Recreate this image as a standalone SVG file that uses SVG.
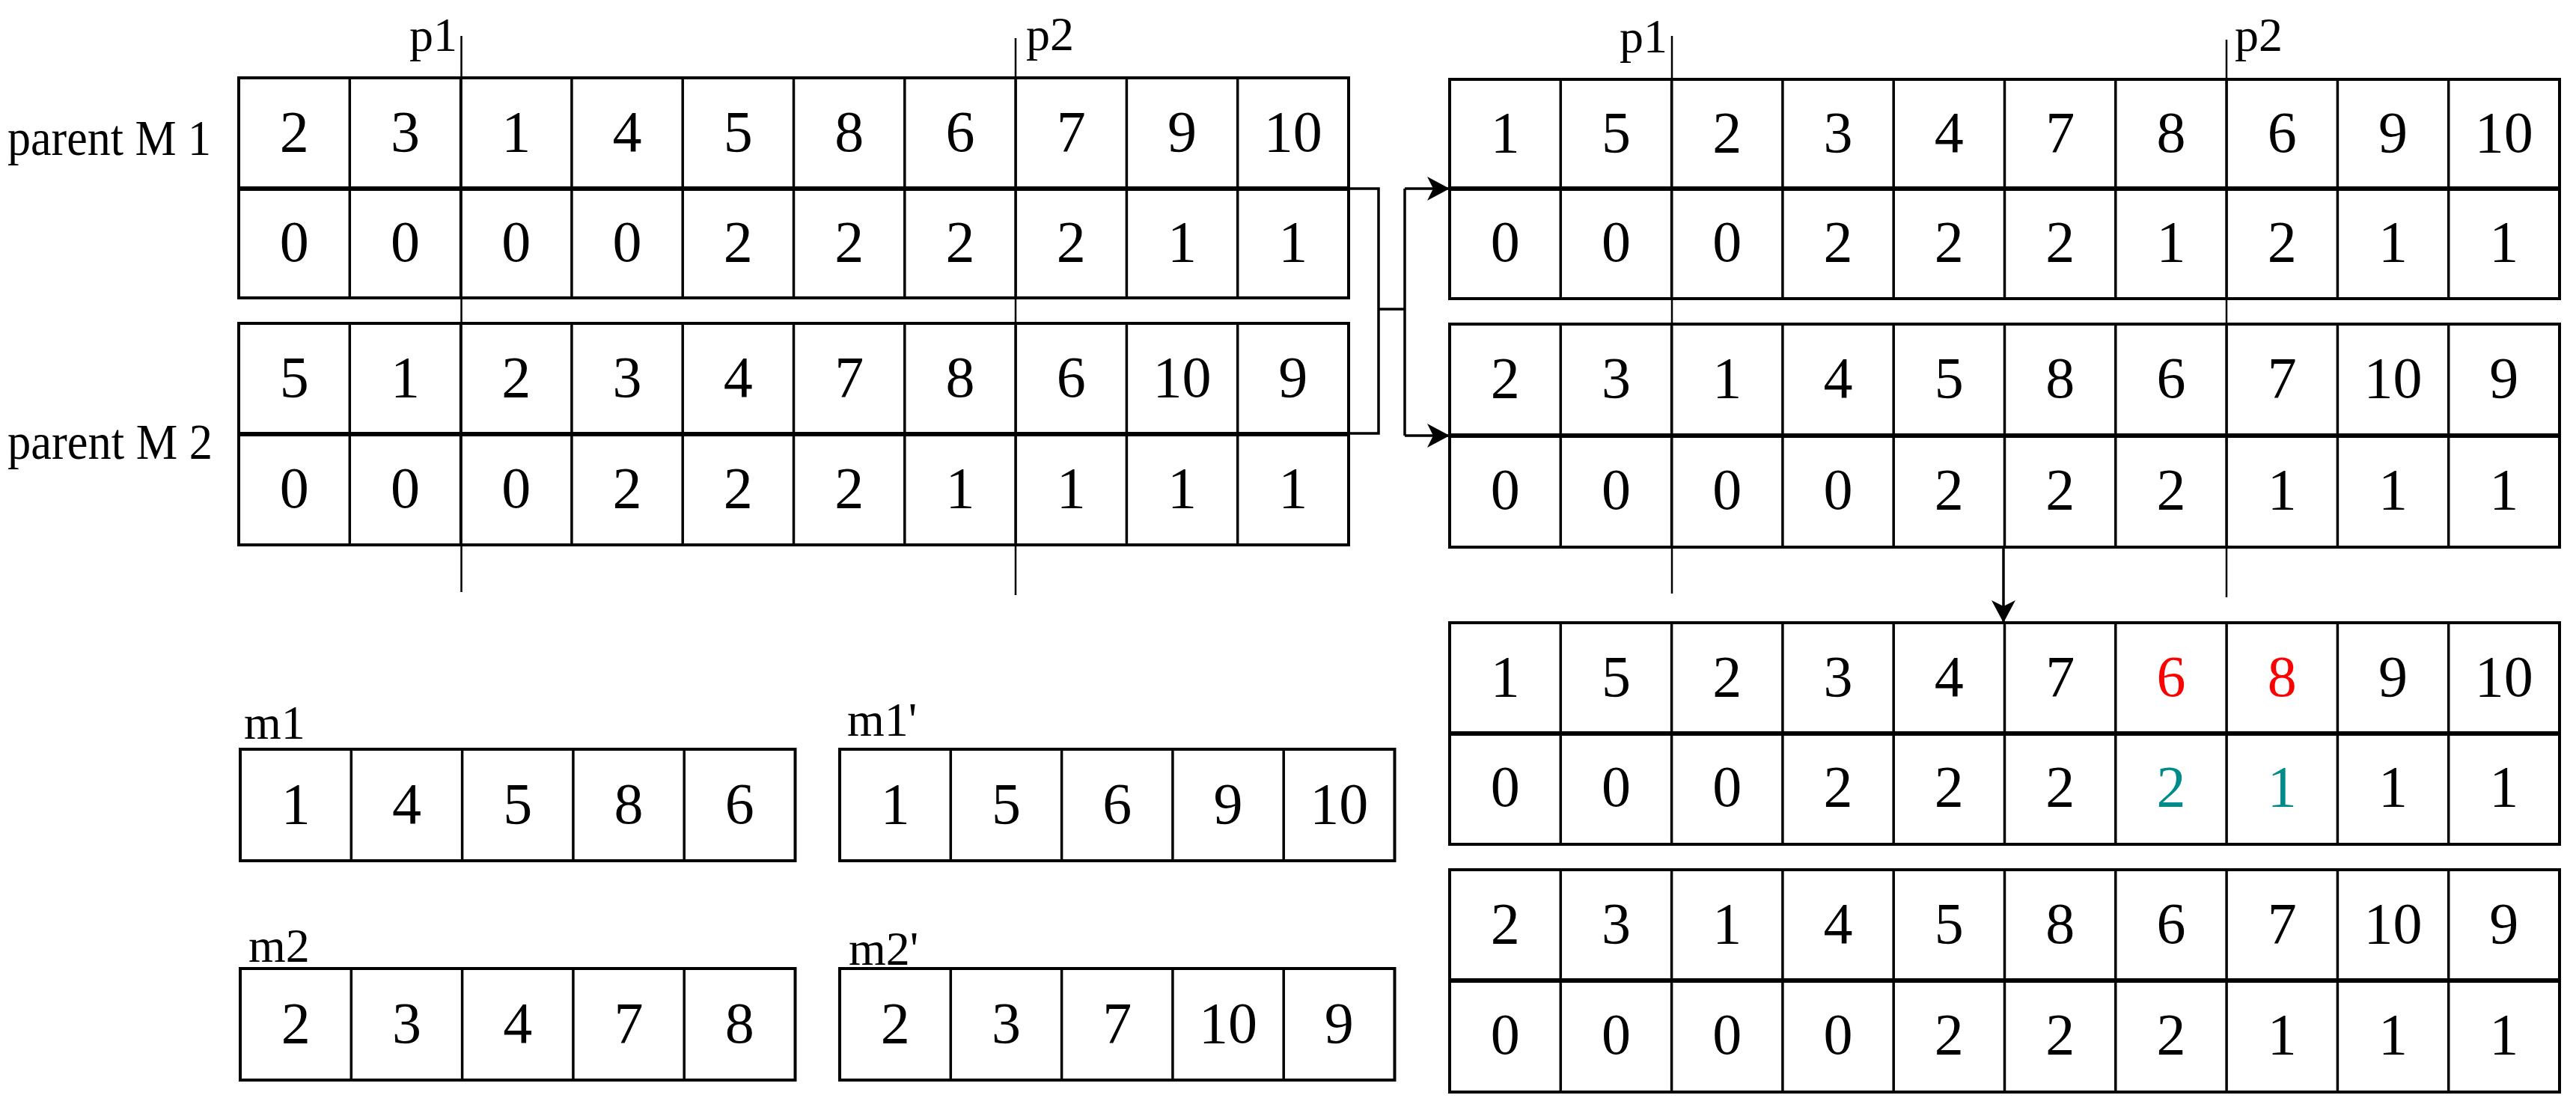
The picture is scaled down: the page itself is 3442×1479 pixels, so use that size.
<svg xmlns="http://www.w3.org/2000/svg" width="3442" height="1479" viewBox="0 0 3442 1479">
<style>
.bg{fill:#ffffff}
.box{fill:none;stroke:#000;stroke-width:4}
.mid{stroke:#000;stroke-width:6}
.v{stroke:#000;stroke-width:3.5}
.cut{stroke:#000;stroke-width:2.5;fill:none}
.con{stroke:#000;stroke-width:3.5;fill:none}
.d{font-family:"Liberation Serif","Times New Roman",serif;font-size:78px;text-anchor:middle;fill:#000}
.lab{font-family:"Liberation Serif","Times New Roman",serif;font-size:68px;fill:#000}
.pl{font-family:"Liberation Serif","Times New Roman",serif;font-size:64px;fill:#000}
.red{fill:#ff0000}
.teal{fill:#008b8b}
</style>
<defs>
<marker id="arr" markerUnits="userSpaceOnUse" viewBox="0 0 30 32" refX="30" refY="16" markerWidth="30" markerHeight="32" orient="auto">
<path d="M0,0 L30,16 L0,32 L8,16 Z" fill="#000"/>
</marker>
</defs>
<rect class="bg" x="0" y="0" width="3442" height="1479"/>

<!-- labels -->
<g id="labels">
<text class="lab" x="10" y="207" textLength="272" lengthAdjust="spacingAndGlyphs">parent M 1</text>
<text class="lab" x="10" y="613" textLength="274" lengthAdjust="spacingAndGlyphs">parent M 2</text>
<text class="pl" x="547" y="68">p1</text>
<text class="pl" x="1371" y="67">p2</text>
<text class="pl" x="2164" y="70">p1</text>
<text class="pl" x="2986" y="68">p2</text>
<text class="pl" x="326" y="987">m1</text>
<text class="pl" x="332" y="1285">m2</text>
<text class="pl" x="1132" y="983">m1'</text>
<text class="pl" x="1134" y="1289">m2'</text>
</g>

<!-- parent M1 -->
<g id="parentM1">
<rect class="box" x="319" y="104" width="1483" height="294"/>
<line class="mid" x1="319" y1="252" x2="1802" y2="252"/>
<path class="v" d="M467.3,104V398M615.6,104V398M763.9,104V398M912.2,104V398M1060.5,104V398M1208.8,104V398M1357.1,104V398M1505.4,104V398M1653.7,104V398"/>
<text class="d" x="393.15" y="202">2</text><text class="d" x="541.45" y="202">3</text><text class="d" x="689.75" y="202">1</text><text class="d" x="838.05" y="202">4</text><text class="d" x="986.35" y="202">5</text><text class="d" x="1134.65" y="202">8</text><text class="d" x="1282.95" y="202">6</text><text class="d" x="1431.25" y="202">7</text><text class="d" x="1579.55" y="202">9</text><text class="d" x="1727.85" y="202">10</text>
<text class="d" x="393.15" y="349">0</text><text class="d" x="541.45" y="349">0</text><text class="d" x="689.75" y="349">0</text><text class="d" x="838.05" y="349">0</text><text class="d" x="986.35" y="349">2</text><text class="d" x="1134.65" y="349">2</text><text class="d" x="1282.95" y="349">2</text><text class="d" x="1431.25" y="349">2</text><text class="d" x="1579.55" y="349">1</text><text class="d" x="1727.85" y="349">1</text>
</g>

<!-- parent M2 -->
<g id="parentM2">
<rect class="box" x="319" y="432" width="1483" height="296"/>
<line class="mid" x1="319" y1="580" x2="1802" y2="580"/>
<path class="v" d="M467.3,432V728M615.6,432V728M763.9,432V728M912.2,432V728M1060.5,432V728M1208.8,432V728M1357.1,432V728M1505.4,432V728M1653.7,432V728"/>
<text class="d" x="393.15" y="530">5</text><text class="d" x="541.45" y="530">1</text><text class="d" x="689.75" y="530">2</text><text class="d" x="838.05" y="530">3</text><text class="d" x="986.35" y="530">4</text><text class="d" x="1134.65" y="530">7</text><text class="d" x="1282.95" y="530">8</text><text class="d" x="1431.25" y="530">6</text><text class="d" x="1579.55" y="530">10</text><text class="d" x="1727.85" y="530">9</text>
<text class="d" x="393.15" y="678">0</text><text class="d" x="541.45" y="678">0</text><text class="d" x="689.75" y="678">0</text><text class="d" x="838.05" y="678">2</text><text class="d" x="986.35" y="678">2</text><text class="d" x="1134.65" y="678">2</text><text class="d" x="1282.95" y="678">1</text><text class="d" x="1431.25" y="678">1</text><text class="d" x="1579.55" y="678">1</text><text class="d" x="1727.85" y="678">1</text>
</g>

<!-- child R1 -->
<g id="child1">
<rect class="box" x="1937" y="106" width="1483" height="293"/>
<line class="mid" x1="1937" y1="252" x2="3420" y2="252"/>
<path class="v" d="M2085.3,106V399M2233.6,106V399M2381.9,106V399M2530.2,106V399M2678.5,106V399M2826.8,106V399M2975.1,106V399M3123.4,106V399M3271.7,106V399"/>
<text class="d" x="2011.15" y="203">1</text><text class="d" x="2159.45" y="203">5</text><text class="d" x="2307.75" y="203">2</text><text class="d" x="2456.05" y="203">3</text><text class="d" x="2604.35" y="203">4</text><text class="d" x="2752.65" y="203">7</text><text class="d" x="2900.95" y="203">8</text><text class="d" x="3049.25" y="203">6</text><text class="d" x="3197.55" y="203">9</text><text class="d" x="3345.85" y="203">10</text>
<text class="d" x="2011.15" y="349">0</text><text class="d" x="2159.45" y="349">0</text><text class="d" x="2307.75" y="349">0</text><text class="d" x="2456.05" y="349">2</text><text class="d" x="2604.35" y="349">2</text><text class="d" x="2752.65" y="349">2</text><text class="d" x="2900.95" y="349">1</text><text class="d" x="3049.25" y="349">2</text><text class="d" x="3197.55" y="349">1</text><text class="d" x="3345.85" y="349">1</text>
</g>

<!-- child R2 -->
<g id="child2">
<rect class="box" x="1937" y="433" width="1483" height="298"/>
<line class="mid" x1="1937" y1="582" x2="3420" y2="582"/>
<path class="v" d="M2085.3,433V731M2233.6,433V731M2381.9,433V731M2530.2,433V731M2678.5,433V731M2826.8,433V731M2975.1,433V731M3123.4,433V731M3271.7,433V731"/>
<text class="d" x="2011.15" y="531">2</text><text class="d" x="2159.45" y="531">3</text><text class="d" x="2307.75" y="531">1</text><text class="d" x="2456.05" y="531">4</text><text class="d" x="2604.35" y="531">5</text><text class="d" x="2752.65" y="531">8</text><text class="d" x="2900.95" y="531">6</text><text class="d" x="3049.25" y="531">7</text><text class="d" x="3197.55" y="531">10</text><text class="d" x="3345.85" y="531">9</text>
<text class="d" x="2011.15" y="680">0</text><text class="d" x="2159.45" y="680">0</text><text class="d" x="2307.75" y="680">0</text><text class="d" x="2456.05" y="680">0</text><text class="d" x="2604.35" y="680">2</text><text class="d" x="2752.65" y="680">2</text><text class="d" x="2900.95" y="680">2</text><text class="d" x="3049.25" y="680">1</text><text class="d" x="3197.55" y="680">1</text><text class="d" x="3345.85" y="680">1</text>
</g>

<!-- result R3 -->
<g id="result1">
<rect class="box" x="1937" y="832" width="1483" height="296"/>
<line class="mid" x1="1937" y1="980" x2="3420" y2="980"/>
<path class="v" d="M2085.3,832V1128M2233.6,832V1128M2381.9,832V1128M2530.2,832V1128M2678.5,832V1128M2826.8,832V1128M2975.1,832V1128M3123.4,832V1128M3271.7,832V1128"/>
<text class="d" x="2011.15" y="930">1</text><text class="d" x="2159.45" y="930">5</text><text class="d" x="2307.75" y="930">2</text><text class="d" x="2456.05" y="930">3</text><text class="d" x="2604.35" y="930">4</text><text class="d" x="2752.65" y="930">7</text><text class="d red" x="2900.95" y="930">6</text><text class="d red" x="3049.25" y="930">8</text><text class="d" x="3197.55" y="930">9</text><text class="d" x="3345.85" y="930">10</text>
<text class="d" x="2011.15" y="1077">0</text><text class="d" x="2159.45" y="1077">0</text><text class="d" x="2307.75" y="1077">0</text><text class="d" x="2456.05" y="1077">2</text><text class="d" x="2604.35" y="1077">2</text><text class="d" x="2752.65" y="1077">2</text><text class="d teal" x="2900.95" y="1077">2</text><text class="d teal" x="3049.25" y="1077">1</text><text class="d" x="3197.55" y="1077">1</text><text class="d" x="3345.85" y="1077">1</text>
</g>

<!-- result R4 -->
<g id="result2">
<rect class="box" x="1937" y="1162" width="1483" height="297"/>
<line class="mid" x1="1937" y1="1310" x2="3420" y2="1310"/>
<path class="v" d="M2085.3,1162V1459M2233.6,1162V1459M2381.9,1162V1459M2530.2,1162V1459M2678.5,1162V1459M2826.8,1162V1459M2975.1,1162V1459M3123.4,1162V1459M3271.7,1162V1459"/>
<text class="d" x="2011.15" y="1260">2</text><text class="d" x="2159.45" y="1260">3</text><text class="d" x="2307.75" y="1260">1</text><text class="d" x="2456.05" y="1260">4</text><text class="d" x="2604.35" y="1260">5</text><text class="d" x="2752.65" y="1260">8</text><text class="d" x="2900.95" y="1260">6</text><text class="d" x="3049.25" y="1260">7</text><text class="d" x="3197.55" y="1260">10</text><text class="d" x="3345.85" y="1260">9</text>
<text class="d" x="2011.15" y="1408">0</text><text class="d" x="2159.45" y="1408">0</text><text class="d" x="2307.75" y="1408">0</text><text class="d" x="2456.05" y="1408">0</text><text class="d" x="2604.35" y="1408">2</text><text class="d" x="2752.65" y="1408">2</text><text class="d" x="2900.95" y="1408">2</text><text class="d" x="3049.25" y="1408">1</text><text class="d" x="3197.55" y="1408">1</text><text class="d" x="3345.85" y="1408">1</text>
</g>

<!-- m1 -->
<g id="m1">
<rect class="box" x="321" y="1001" width="741.5" height="149"/>
<path class="v" d="M469.3,1001V1150M617.6,1001V1150M765.9,1001V1150M914.2,1001V1150"/>
<text class="d" x="395.15" y="1100">1</text><text class="d" x="543.45" y="1100">4</text><text class="d" x="691.75" y="1100">5</text><text class="d" x="840.05" y="1100">8</text><text class="d" x="988.35" y="1100">6</text>
</g>

<!-- m1' -->
<g id="m1p">
<rect class="box" x="1122" y="1001" width="741.5" height="149"/>
<path class="v" d="M1270.3,1001V1150M1418.6,1001V1150M1566.9,1001V1150M1715.2,1001V1150"/>
<text class="d" x="1196.15" y="1100">1</text><text class="d" x="1344.45" y="1100">5</text><text class="d" x="1492.75" y="1100">6</text><text class="d" x="1641.05" y="1100">9</text><text class="d" x="1789.35" y="1100">10</text>
</g>

<!-- m2 -->
<g id="m2">
<rect class="box" x="321" y="1294" width="741.5" height="149"/>
<path class="v" d="M469.3,1294V1443M617.6,1294V1443M765.9,1294V1443M914.2,1294V1443"/>
<text class="d" x="395.15" y="1393">2</text><text class="d" x="543.45" y="1393">3</text><text class="d" x="691.75" y="1393">4</text><text class="d" x="840.05" y="1393">7</text><text class="d" x="988.35" y="1393">8</text>
</g>

<!-- m2' -->
<g id="m2p">
<rect class="box" x="1122" y="1294" width="741.5" height="149"/>
<path class="v" d="M1270.3,1294V1443M1418.6,1294V1443M1566.9,1294V1443M1715.2,1294V1443"/>
<text class="d" x="1196.15" y="1393">2</text><text class="d" x="1344.45" y="1393">3</text><text class="d" x="1492.75" y="1393">7</text><text class="d" x="1641.05" y="1393">10</text><text class="d" x="1789.35" y="1393">9</text>
</g>

<!-- cut lines and connectors -->
<g id="connectors">
<line class="cut" x1="616.5" y1="48" x2="616.5" y2="791"/>
<line class="cut" x1="1357" y1="51" x2="1357" y2="795"/>
<line class="cut" x1="2234" y1="48" x2="2234" y2="793"/>
<line class="cut" x1="2975" y1="53" x2="2975" y2="798"/>
<path class="con" d="M1802,252H1842V579H1802"/>
<line class="con" x1="1842" y1="413" x2="1877" y2="413"/>
<path class="con" d="M1877,252V582"/>
<line class="con" x1="1877" y1="252" x2="1937" y2="252" marker-end="url(#arr)"/>
<line class="con" x1="1877" y1="582" x2="1937" y2="582" marker-end="url(#arr)"/>
<line class="con" x1="2677" y1="731" x2="2677" y2="832" marker-end="url(#arr)"/>
</g>
</svg>
